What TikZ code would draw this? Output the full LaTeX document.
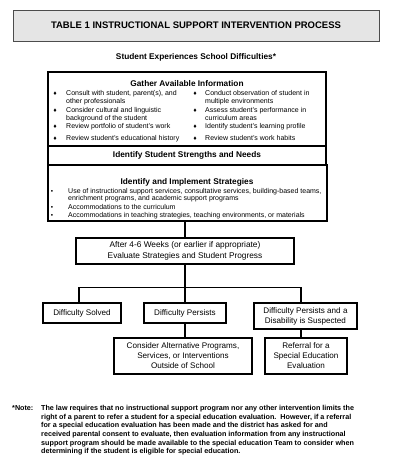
\documentclass[tikz,border=0pt]{standalone}
\usepackage{fontspec}
\setmainfont{Liberation Sans}
\newfontfamily\symfont{DejaVu Sans}
\begin{document}
\begin{tikzpicture}[x=1pt,y=-1pt,
  box/.style={draw=black,line width=1.5pt,inner sep=0pt,align=center},
  conn/.style={draw=black,line width=1.5pt},
  hd/.style={inner sep=0pt,font=\fontsize{8.3}{9}\selectfont\bfseries},
  btxt/.style={inner sep=0pt,anchor=base west,font=\fontsize{7}{8}\selectfont},
  dia/.style={inner sep=0pt,anchor=base,font=\symfont\fontsize{5}{5}\selectfont},
  dot/.style={inner sep=0pt,anchor=base,font=\fontsize{6.5}{8}\selectfont},
  lbl/.style={font=\fontsize{8.1}{10}\selectfont}
]
\useasboundingbox (0,0) rectangle (400,466);

% title
\node[draw=black!70,fill=black!10,line width=0.9pt,inner sep=0pt,minimum width=366pt,minimum height=31pt,
  font=\fontsize{9.5}{10}\selectfont\bfseries] (title) at (196,25.5) {TABLE 1 INSTRUCTIONAL SUPPORT INTERVENTION PROCESS};

\node[hd] (start) at (196,57) {Student Experiences School Difficulties*};

% gather box
\node[box,minimum width=278pt,minimum height=74pt] (gather) at (187,109) {};
\node[hd] (gtitle) at (187,84) {Gather Available Information};

\node[dia] (b1) at (55,95) {♦};
\node[btxt] (l1a) at (66,95) {Consult with student, parent(s), and};
\node[btxt] (l1b) at (66,103) {other professionals};
\node[dia] (b2) at (55,112) {♦};
\node[btxt] (l2a) at (66,112) {Consider cultural and linguistic};
\node[btxt] (l2b) at (66,120) {background of the student};
\node[dia] (b3) at (55,128) {♦};
\node[btxt] (l3a) at (66,128) {Review portfolio of student's work};
\node[dia] (b4) at (55,140) {♦};
\node[btxt] (l4a) at (66,140) {Review student's educational history};

\node[dia] (b5) at (195,95) {♦};
\node[btxt] (r1a) at (205,95) {Conduct observation of student in};
\node[btxt] (r1b) at (205,103) {multiple environments};
\node[dia] (b6) at (195,112) {♦};
\node[btxt] (r2a) at (205,112) {Assess student's performance in};
\node[btxt] (r2b) at (205,120) {curriculum areas};
\node[dia] (b7) at (195,128) {♦};
\node[btxt] (r3a) at (205,128) {Identify student's learning profile};
\node[dia] (b8) at (195,140) {♦};
\node[btxt] (r4a) at (205,140) {Review student's work habits};

% strengths
\node[box,minimum width=278pt,minimum height=19pt,font=\fontsize{8.3}{9}\selectfont\bfseries] (needs) at (187,155.5) {Identify Student Strengths and Needs};

% strategies
\node[box,minimum width=279pt,minimum height=56pt] (strat) at (187.5,193) {};
\node[hd] (stitle) at (187,182) {Identify and Implement Strategies};
\node[dot] (s1) at (52,193) {•};
\node[btxt] (s1a) at (68,193) {Use of instructional support services, consultative services, building-based teams,};
\node[btxt] (s1b) at (68,200) {enrichment programs, and academic support programs};
\node[dot] (s2) at (52,209) {•};
\node[btxt] (s2a) at (68,209) {Accommodations to the curriculum};
\node[dot] (s3) at (52,217) {•};
\node[btxt] (s3a) at (68,217) {Accommodations in teaching strategies, teaching environments, or materials};

% evaluate
\node[box,font=\fontsize{8.3}{11}\selectfont,minimum width=218pt,minimum height=26pt] (eval) at (185,251)
  {After 4-6 Weeks (or earlier if appropriate)\\Evaluate Strategies and Student Progress};

% outcomes
\node[box,lbl,minimum width=78pt,minimum height=20pt] (solved) at (82,313) {Difficulty Solved};
\node[box,lbl,minimum width=82pt,minimum height=20pt] (persists) at (185,313) {Difficulty Persists};
\node[box,lbl,minimum width=103pt,minimum height=26pt] (dis) at (305.5,316) {Difficulty Persists and a\\Disability is Suspected};
\node[box,lbl,minimum width=138pt,minimum height=36pt] (consider) at (183,356) {Consider Alternative Programs,\\Services, or Interventions\\Outside of School};
\node[box,lbl,minimum width=82pt,minimum height=36pt] (referral) at (306,356) {Referral for a\\Special Education\\Evaluation};

% connectors
\draw[conn] (eval.north) -- (eval.north |- strat.south);
\draw[conn] (eval.south) -- (persists.north);
\draw[conn] ([xshift=-3pt]solved.north) -- ++(0,-15) -| ([xshift=-4.5pt]dis.north);
\draw[conn] (persists.south) -- (persists.south |- consider.north);
\draw[conn] ([xshift=-4.5pt]dis.south) -- ([xshift=-4.5pt]dis.south |- referral.north);

% note
\node[inner sep=0pt,anchor=base west,font=\fontsize{7.2}{8.6}\selectfont\bfseries] (notelbl) at (12,410.5) {*Note:};
\node[inner sep=0pt,anchor=north west,align=left,font=\fontsize{7.2}{8.6}\selectfont\bfseries] (note) at (41,405.3)
 {The law requires that no instructional support program nor any other intervention limits the\\
  right of a parent to refer a student for a special education evaluation.\ \ However, if a referral\\
  for a special education evaluation has been made and the district has asked for and\\
  received parental consent to evaluate, then evaluation information from any instructional\\
  support program should be made available to the special education Team to consider when\\
  determining if the student is eligible for special education.};
\end{tikzpicture}
\end{document}
